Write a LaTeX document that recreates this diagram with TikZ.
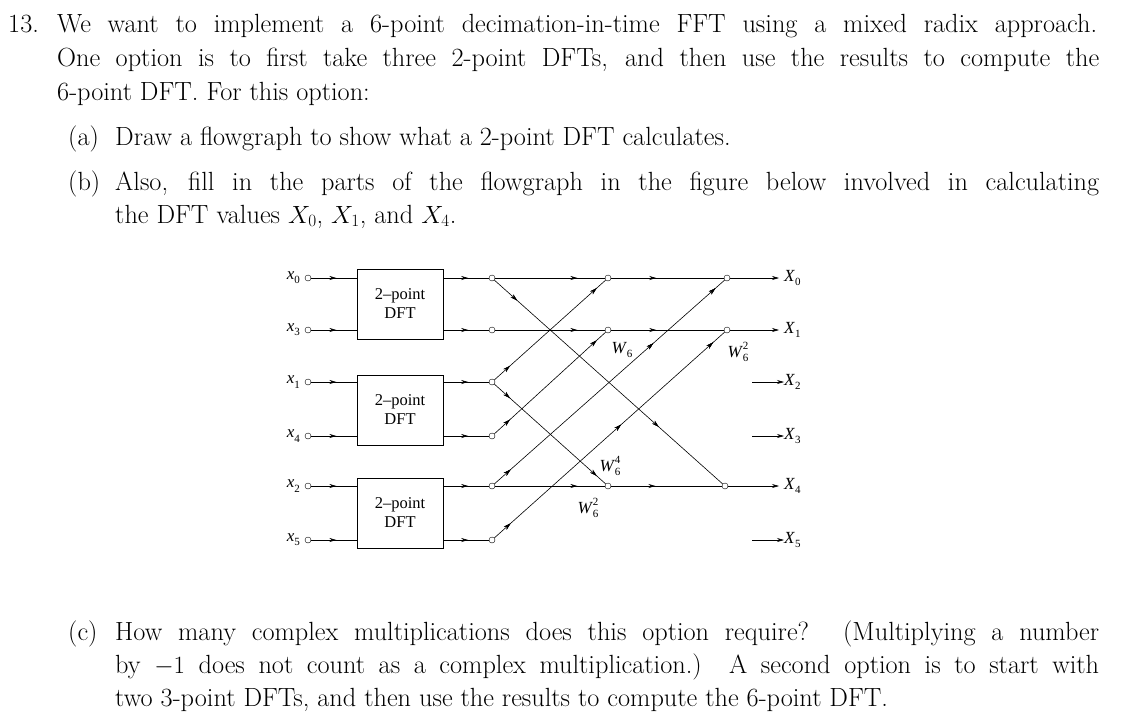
\documentclass[tikz,border=0pt]{standalone}
\usepackage{fontspec}
\newfontfamily\tms{Liberation Serif}
\usetikzlibrary{decorations.markings,arrows.meta}
\newcommand{\myW}[1]{\textit{W}\rlap{\raisebox{0.45em}{\fontsize{11}{11}\selectfont #1}}\raisebox{-0.25em}{\fontsize{11}{11}\selectfont 6}}
\newcommand{\myv}[2]{\textit{#1}\raisebox{-0.25em}{\fontsize{11}{11}\selectfont #2}}
\begin{document}
\begin{tikzpicture}[x=1pt,y=-1pt,
  txt/.style={anchor=base west,inner sep=0pt,font=\fontsize{26.3}{30}\selectfont},
  lbl/.style={inner sep=0pt,font=\tms\fontsize{17}{19}\selectfont},
  nd/.style={circle,draw,fill=white,inner sep=0pt,minimum size=6pt},
  box/.style={draw,line width=1pt,minimum width=86pt,minimum height=70pt,align=center,font=\tms\fontsize{16.5}{19}\selectfont},
  tip/.style={decoration={markings,mark=at position #1 with {\arrow{Stealth[length=7pt,width=4pt]}}},postaction={decorate}},
  line/.style={line width=0.6pt},
  outa/.style={line,-{Stealth[length=7pt,width=4pt]}}]
\useasboundingbox (0,0) rectangle (1135,724);
% text
\node[txt] (t1) at (8,32) {13.};
\node[txt] (t2) at (57,32) {\makebox[1040pt][s]{We want to implement a 6-point decimation-in-time FFT using a mixed radix approach.}};
\node[txt] (t3) at (57,66) {\makebox[1042pt][s]{One option is to first take three 2-point DFTs, and then use the results to compute the}};
\node[txt] (t4) at (57,100) {6-point DFT. For this option:};
\node[txt] (t5) at (68,145) {(a)};
\node[txt] (t6) at (115,145) {Draw a flowgraph to show what a 2-point DFT calculates.};
\node[txt] (t7) at (68,190) {(b)};
\node[txt] (t8) at (115,190) {\makebox[984pt][s]{Also, fill in the parts of the flowgraph in the figure below involved in calculating}};
\node[txt] (t9) at (115,223) {the DFT values $X_0$, $X_1$, and $X_4$.};
\node[txt] (t10) at (68,640) {(c)};
\node[txt] (t11) at (115,640) {\makebox[984pt][s]{How many complex multiplications does this option require? (Multiplying a number}};
\node[txt] (t12) at (115,673) {\makebox[984pt][s]{by $-1$ does not count as a complex multiplication.) A second option is to start with}};
\node[txt] (t13) at (115,706) {two 3-point DFTs, and then use the results to compute the 6-point DFT.};
% boxes
\node[box] (b1) at (400,304) {2–point\\DFT};
\node[box] (b2) at (400,410) {2–point\\DFT};
\node[box] (b3) at (400,513) {2–point\\DFT};
% inputs
\foreach \n/\y in {0/278,3/330,1/382,4/436,2/486,5/540}{
  \node[nd] (i\n) at (308,\y) {};
  \node[lbl,anchor=east] (l\n) at (300,\y) {\myv{x}{\n}};
  \coordinate (bi\n) at (357,\y);
  \coordinate (bo\n) at (443,\y);
  \node[nd] (a\n) at (492,\y) {};
  \draw[line,tip=0.55] (i\n) -- (bi\n);
  \draw[line,tip=0.55] (bo\n) -- (a\n);
}
% stage 2 and 3 nodes
\node[nd] (s0) at (608,278) {};
\node[nd] (s1) at (608,330) {};
\node[nd] (s4) at (608,486) {};
\node[nd] (r0) at (727,278) {};
\node[nd] (r1) at (727,330) {};
\node[nd] (r4) at (725,486) {};
\foreach \n/\y in {0/278,1/330,2/382,3/436,4/486,5/540}{
  \node[lbl,anchor=west] (Y\n) at (784,\y) {\myv{X}{\n}};
}
\coordinate (c2) at (752,382);
\coordinate (c3) at (752,436);
\coordinate (c5) at (752,540);
\coordinate (e0) at (779,278);
\coordinate (e1) at (779,330);
\coordinate (e4) at (779,486);
\draw[line,tip=0.75] (a0) -- (s0);
\draw[line,tip=0.75] (a3) -- (s1);
\draw[line,tip=0.75] (a2) -- (s4);
\draw[line,tip=0.4] (s0) -- (r0);
\draw[line,tip=0.4] (s1) -- (r1);
\draw[line,tip=0.4] (s4) -- (r4);
\draw[outa] (r0) -- (e0);
\draw[outa] (r1) -- (e1);
\draw[outa] (r4) -- (e4);
\draw[outa] (c2) -- (Y2.west);
\draw[outa] (c3) -- (Y3.west);
\draw[outa] (c5) -- (Y5.west);
% diagonals
\draw[line,tip=0.1,tip=0.72] (a0) -- (r4);
\draw[line,tip=0.14,tip=0.92] (a1) -- (s0);
\draw[line,tip=0.14,tip=0.92] (a1) -- (s4);
\draw[line,tip=0.14,tip=0.92] (a4) -- (s1);
\draw[line,tip=0.07,tip=0.69,tip=0.96] (a2) -- (r0);
\draw[line,tip=0.07,tip=0.55,tip=0.95] (a5) -- (r1);
% weights
\node[lbl] (w1) at (622,350) {\myW{}};
\node[lbl] (w2) at (738,352) {\myW{2}};
\node[lbl] (w3) at (610,466) {\myW{4}};
\node[lbl] (w4) at (588,508) {\myW{2}};
\end{tikzpicture}
\end{document}
